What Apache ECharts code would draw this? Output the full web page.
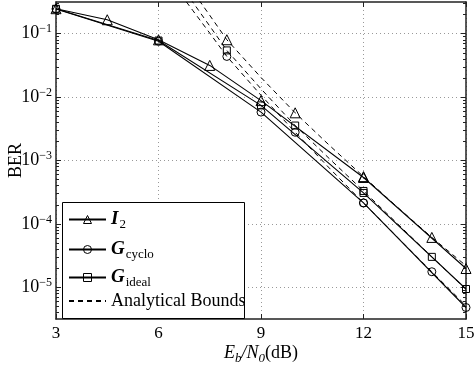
<!DOCTYPE html>
<html><head><meta charset="utf-8">
<script src="https://cdn.jsdelivr.net/npm/echarts@6/dist/echarts.min.js"></script>
<style>html,body{margin:0;padding:0;background:#fff}#c{width:474px;height:365px}</style>
</head><body><div id="c"></div>
<script>
// ---- data ----
const snrI2 = [3, 4.5, 6, 7.5, 9, 12, 15];
const berI2 = [0.248, 0.166, 0.080, 0.0316, 8.8e-3, 5.4e-4, 1.98e-5];
const snrG = [3, 6, 9, 12, 15];
const berGcyclo = [0.246, 0.076, 5.8e-3, 2.14e-4, 4.8e-6];
const berGideal = [0.247, 0.078, 7.4e-3, 3.08e-4, 9.4e-6];
const snrBound = [6.5, 7, 7.5, 8, 9, 10, 11, 12, 13, 14, 15];
const boundI2 = [0.9, 0.468, 0.195, 0.0803, 0.0204, 5.65e-3, 1.74e-3, 5.57e-4, 1.82e-4, 6.12e-5, 2.19e-5];
const boundGideal = [0.79, 0.316, 0.132, 0.0545, 0.0135, 3.56e-3, 1.07e-3, 3.31e-4, 1.0e-4, 3.02e-5, 9.3e-6];
const boundGcyclo = [0.537, 0.234, 0.102, 0.0438, 0.0107, 2.79e-3, 7.59e-4, 2.14e-4, 6.1e-5, 1.76e-5, 5.13e-6];
const boundMarkSnr = [8, 10, 12, 14];
const xTicks = [3, 6, 9, 12, 15];
const yMajor = [1e-5, 1e-4, 1e-3, 1e-2, 1e-1];
const legendNames = ['I2', 'Gcyclo', 'Gideal', 'Analytical Bounds'];

// ---- helpers ----
const FONT = "'Liberation Serif','DejaVu Serif',serif";
const pairs = (xs, ys) => xs.map((x, i) => [x, ys[i]]);
const yMinor = [];
for (let e = -6; e <= -1; e++) for (let k = 2; k <= 9; k++) yMinor.push(k * Math.pow(10, e));
const YMIN = Math.pow(10, -5.5), YMAX = Math.pow(10, -0.5);
const FRAME = {lineStyle: {color: '#222', width: 1.5}};
const GRID_LINE = {show: true, lineStyle: {type: [1, 3], color: '#999', width: 1}};

function simSeries(name, xs, ys, sym, size) {
  return {
    name, type: 'line', data: pairs(xs, ys), symbol: sym, symbolSize: size,
    showAllSymbol: true,
    lineStyle: {color: '#000', width: 1.1},
    itemStyle: {color: 'rgba(0,0,0,0)', borderColor: '#000', borderWidth: 1},
    z: 3
  };
}
function boundSeries(xs, ys, sym, size) {
  return {
    name: 'Analytical Bounds', type: 'line', data: pairs(xs, ys),
    symbol: (v) => boundMarkSnr.indexOf(v[0]) >= 0 ? sym : 'none',
    symbolSize: size, showAllSymbol: true,
    lineStyle: {color: '#000', width: 1, type: [5, 4]},
    itemStyle: {color: 'rgba(0,0,0,0)', borderColor: '#000', borderWidth: 1},
    z: 2
  };
}

const chart = echarts.init(document.getElementById('c'), null, {renderer: 'canvas'});
const legendRich = {
  m: {fontFamily: FONT, fontSize: 19, fontWeight: 'bold', fontStyle: 'italic', color: '#000'},
  s: {fontFamily: FONT, fontSize: 13, color: '#000', padding: [11, 0, 0, 1]},
  n: {fontFamily: FONT, fontSize: 18, color: '#000'}
};
function legendAt(name, top, label, itemStyle) {
  return {
    show: true, orient: 'vertical', left: 68, top, padding: 0,
    itemWidth: 37, itemHeight: 10, selectedMode: false,
    data: [{name, itemStyle}],
    formatter: () => label,
    textStyle: {rich: legendRich}
  };
}

chart.setOption({
  animation: false,
  backgroundColor: '#fff',
  grid: {left: 56, right: 8, top: 2, bottom: 46, containLabel: false, outerBoundsMode: 'none'},
  graphic: [{
    type: 'rect', left: 62, top: 202, z: 3,
    shape: {width: 182, height: 116},
    style: {fill: '#fff', stroke: '#000', lineWidth: 1}
  }],
  legend: [
    legendAt('I2', 210, '{m|I}{s|2}', {color: 'rgba(0,0,0,0)', borderColor: '#000', borderWidth: 1}),
    legendAt('Gcyclo', 240, '{m|G}{s|cyclo}', {color: 'rgba(0,0,0,0)', borderColor: '#000', borderWidth: 1}),
    legendAt('Gideal', 268, '{m|G}{s|ideal}', {color: 'rgba(0,0,0,0)', borderColor: '#000', borderWidth: 1}),
    legendAt('Analytical Bounds', 292, '{n|Analytical Bounds}', {opacity: 0, color: 'rgba(0,0,0,0)', borderWidth: 0})
  ],
  xAxis: [{
    type: 'value', min: 3, max: 15, interval: 3, position: 'bottom',
    axisLine: FRAME,
    axisTick: {inside: true, length: 5, lineStyle: {color: '#222'}},
    axisLabel: {color: '#000', fontFamily: FONT, fontSize: 17, margin: 6},
    splitLine: GRID_LINE,
    name: '{i|E}{is|b}{i|/N}{is|0}{n|(dB)}', nameLocation: 'middle', nameGap: 23,
    nameMoveOverlap: false,
    nameTextStyle: {rich: {
      i: {fontFamily: FONT, fontSize: 18, fontStyle: 'italic', color: '#000'},
      is: {fontFamily: FONT, fontSize: 13, fontStyle: 'italic', color: '#000', padding: [10, 0, 0, 0]},
      n: {fontFamily: FONT, fontSize: 18, color: '#000'}
    }}
  }, {
    type: 'value', min: 3, max: 15, interval: 3, position: 'top',
    axisLine: FRAME,
    axisTick: {inside: true, length: 5, lineStyle: {color: '#222'}},
    axisLabel: {show: false}, splitLine: {show: false}
  }],
  yAxis: [{
    type: 'log', logBase: 10, min: YMIN, max: YMAX, position: 'left',
    axisLine: FRAME,
    axisTick: {inside: true, length: 5, customValues: yMajor, lineStyle: {color: '#222'}},
    axisLabel: {
      customValues: yMajor, margin: 4, color: '#000',
      formatter: (v) => '{b|10}{s|\u2212' + Math.round(-Math.log10(v)) + '}',
      rich: {
        b: {fontFamily: FONT, fontSize: 18, color: '#000'},
        s: {fontFamily: FONT, fontSize: 12, color: '#000', padding: [0, 0, 9, 0]}
      }
    },
    splitLine: GRID_LINE,
    name: 'BER', nameLocation: 'middle', nameGap: 31, nameMoveOverlap: false,
    nameTextStyle: {fontFamily: FONT, fontSize: 18, color: '#000'}
  }, {
    type: 'log', logBase: 10, min: YMIN, max: YMAX, position: 'left',
    axisLine: {show: false},
    axisTick: {inside: true, length: 3, customValues: yMinor, lineStyle: {color: '#222'}},
    axisLabel: {show: false}, splitLine: {show: false}
  }, {
    type: 'log', logBase: 10, min: YMIN, max: YMAX, position: 'right',
    axisLine: FRAME,
    axisTick: {inside: true, length: 5, customValues: yMajor, lineStyle: {color: '#222'}},
    axisLabel: {show: false}, splitLine: {show: false}
  }, {
    type: 'log', logBase: 10, min: YMIN, max: YMAX, position: 'right',
    axisLine: {show: false},
    axisTick: {inside: true, length: 3, customValues: yMinor, lineStyle: {color: '#222'}},
    axisLabel: {show: false}, splitLine: {show: false}
  }],
  series: [
    simSeries('I2', snrI2, berI2, 'triangle', 10),
    simSeries('Gcyclo', snrG, berGcyclo, 'circle', 8),
    simSeries('Gideal', snrG, berGideal, 'rect', 7),
    boundSeries(snrBound, boundI2, 'triangle', 10),
    boundSeries(snrBound, boundGideal, 'rect', 7),
    boundSeries(snrBound, boundGcyclo, 'circle', 8)
  ]
});
</script>
</body></html>
